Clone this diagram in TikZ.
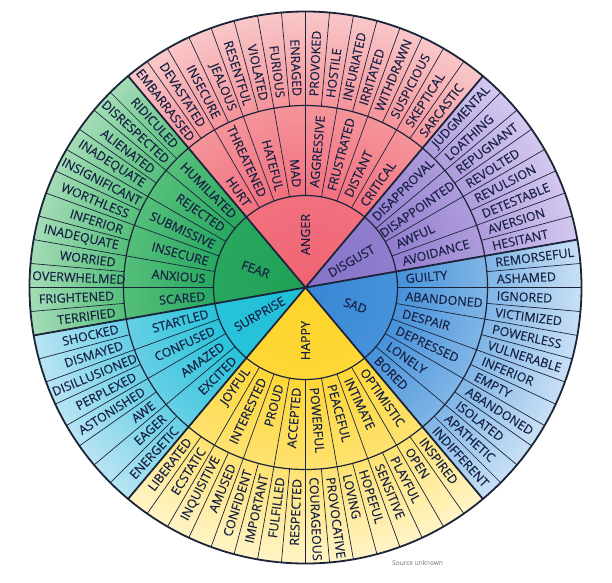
\documentclass[tikz,border=0pt]{standalone}
\usepackage{fontspec}
\setmainfont{Open Sans}[FakeBold=0.3]
\definecolor{trait}{RGB}{28,36,58}
\definecolor{encre}{RGB}{24,34,68}
\newcommand{\police}{\fontsize{12.5}{14}\selectfont}
% case de largeur fixe : le mot part du bord interieur, recule s'il est trop long
\newcommand{\versext}[3]{\hbox to #1{\hskip #2 minus #2\relax #3\hfil}}
\newcommand{\versint}[3]{\hbox to #1{\hfil #3\hskip #2 minus #2\relax}}
% degrades radiaux : centre, bord du coeur, bord du milieu, bord exterieur (25bp = rayon)
\pgfdeclareradialshading{colere}{\pgfpoint{0bp}{0bp}}{rgb(0bp)=(0.941,0.392,0.451); rgb(8.3bp)=(0.949,0.439,0.494); rgb(16.5bp)=(0.961,0.580,0.604); rgb(25bp)=(0.976,0.780,0.784); rgb(50bp)=(0.976,0.780,0.784)}
\pgfdeclareradialshading{peur}{\pgfpoint{0bp}{0bp}}{rgb(0bp)=(0.118,0.627,0.333); rgb(8.3bp)=(0.157,0.659,0.373); rgb(16.5bp)=(0.333,0.749,0.482); rgb(25bp)=(0.643,0.863,0.714); rgb(50bp)=(0.643,0.863,0.714)}
\pgfdeclareradialshading{surprise}{\pgfpoint{0bp}{0bp}}{rgb(0bp)=(0.118,0.745,0.843); rgb(8.3bp)=(0.157,0.765,0.855); rgb(16.5bp)=(0.400,0.812,0.898); rgb(25bp)=(0.725,0.894,0.953); rgb(50bp)=(0.725,0.894,0.953)}
\pgfdeclareradialshading{joie}{\pgfpoint{0bp}{0bp}}{rgb(0bp)=(0.996,0.831,0.157); rgb(8.3bp)=(0.996,0.843,0.216); rgb(16.5bp)=(0.996,0.886,0.443); rgb(25bp)=(1,0.957,0.780); rgb(50bp)=(1,0.957,0.780)}
\pgfdeclareradialshading{tristesse}{\pgfpoint{0bp}{0bp}}{rgb(0bp)=(0.216,0.529,0.831); rgb(8.3bp)=(0.275,0.569,0.855); rgb(16.5bp)=(0.502,0.710,0.902); rgb(25bp)=(0.788,0.878,0.961); rgb(50bp)=(0.788,0.878,0.961)}
\pgfdeclareradialshading{degout}{\pgfpoint{0bp}{0bp}}{rgb(0bp)=(0.529,0.451,0.784); rgb(8.3bp)=(0.569,0.490,0.804); rgb(16.5bp)=(0.686,0.612,0.863); rgb(25bp)=(0.827,0.784,0.937); rgb(50bp)=(0.827,0.784,0.937)}

\begin{document}
\begin{tikzpicture}[x=1pt,y=1pt,
  fin/.style={color=trait,line width=0.7pt},
  cercle/.style={color=trait,line width=1.2pt},
  rayon/.style={color=trait,line width=1.8pt},
  bord/.style={color=trait,line width=1.8pt},
  mot/.style={font=\police,text=encre,inner sep=0pt}]
\useasboundingbox (-305.5,-294.5) rectangle (306.5,287.5); % marges de l'image
\foreach \nuance/\ad/\af in {colere/50/130, peur/130/190, surprise/190/230, joie/230/310, tristesse/310/370, degout/370/410}{
  \begin{scope}
    \clip (0,0) -- (\ad:276) arc[start angle=\ad,end angle=\af,radius=276] -- cycle;
    \shade[shading=\nuance] (0,0) circle (276);
  \end{scope}
}
\foreach \t in {0,5,...,355} \draw[fin] (\t:182) -- (\t:276); % cases exterieures
\foreach \t in {0,10,...,350} \draw[fin] (\t:92) -- (\t:182); % cases du milieu
\draw[cercle] (0,0) circle (92) (0,0) circle (182);
\foreach \t in {10,50,130,190,230,310} \draw[rayon] (0,0) -- (\t:276); % limites des secteurs
\draw[bord] (0,0) circle (276);
% emotions de base
\foreach \mot/\t/\rot in {ANGER/90/90, DISGUST/30/30, SAD/-20/-20, HAPPY/270/90, SURPRISE/210/30, FEAR/160/-20}
  \node[mot,rotate=\rot] (\mot) at (\t:53) {\mot};
% anneau du milieu, tous les 10 degres a partir de 5
\foreach \mot [count=\i from 0] in {GUILTY, AVOIDANCE, AWFUL, DISAPPOINTED, DISAPPROVAL, CRITICAL, DISTANT, FRUSTRATED, AGGRESSIVE, MAD, HATEFUL, THREATENED, HURT, HUMILIATED, REJECTED, SUBMISSIVE, INSECURE, ANXIOUS, SCARED, STARTLED, CONFUSED, AMAZED, EXCITED, JOYFUL, INTERESTED, PROUD, ACCEPTED, POWERFUL, PEACEFUL, INTIMATE, OPTIMISTIC, BORED, LONELY, DEPRESSED, DESPAIR, ABANDONED}{
  \pgfmathsetmacro\t{5+10*\i}
  \pgfmathsetmacro\rot{cos(\t)<0 ? \t+180 : \t}
  \pgfmathtruncatemacro\cote{cos(\t)<0}
  \node[mot,rotate=\rot] (mil\i) at (\t:135.5)
    {\ifnum\cote=1 \versint{86pt}{8pt}{\mot}\else\versext{86pt}{8pt}{\mot}\fi};
}
% anneau exterieur, tous les 5 degres a partir de 2.5
\foreach \mot [count=\i from 0] in {ASHAMED, REMORSEFUL, HESITANT, AVERSION, DETESTABLE, REVULSION, REVOLTED, REPUGNANT, LOATHING, JUDGMENTAL, SARCASTIC, SKEPTICAL, SUSPICIOUS, WITHDRAWN, IRRITATED, INFURIATED, HOSTILE, PROVOKED, ENRAGED, FURIOUS, VIOLATED, RESENTFUL, JEALOUS, INSECURE, DEVASTATED, EMBARRASSED, RIDICULED, DISRESPECTED, ALIENATED, INADEQUATE, INSIGNIFICANT, WORTHLESS, INFERIOR, INADEQUATE, WORRIED, OVERWHELMED, FRIGHTENED, TERRIFIED, SHOCKED, DISMAYED, DISILLUSIONED, PERPLEXED, ASTONISHED, AWE, EAGER, ENERGETIC, LIBERATED, ECSTATIC, INQUISITIVE, AMUSED, CONFIDENT, IMPORTANT, FULFILLED, RESPECTED, COURAGEOUS, PROVOCATIVE, LOVING, HOPEFUL, SENSITIVE, PLAYFUL, OPEN, INSPIRED, INDIFFERENT, APATHETIC, ISOLATED, ABANDONED, EMPTY, INFERIOR, VULNERABLE, POWERLESS, VICTIMIZED, IGNORED}{
  \pgfmathsetmacro\t{2.5+5*\i}
  \pgfmathsetmacro\rot{cos(\t)<0 ? \t+180 : \t}
  \pgfmathtruncatemacro\cote{cos(\t)<0}
  \node[mot,rotate=\rot] (ext\i) at (\t:228)
    {\ifnum\cote=1 \versint{91pt}{9pt}{\mot}\else\versext{91pt}{9pt}{\mot}\fi};
}
\node[font=\fontsize{6.5}{7}\selectfont,text=gray!70] (source) at (112,-275) {Source unknown};
\end{tikzpicture}
\end{document}
